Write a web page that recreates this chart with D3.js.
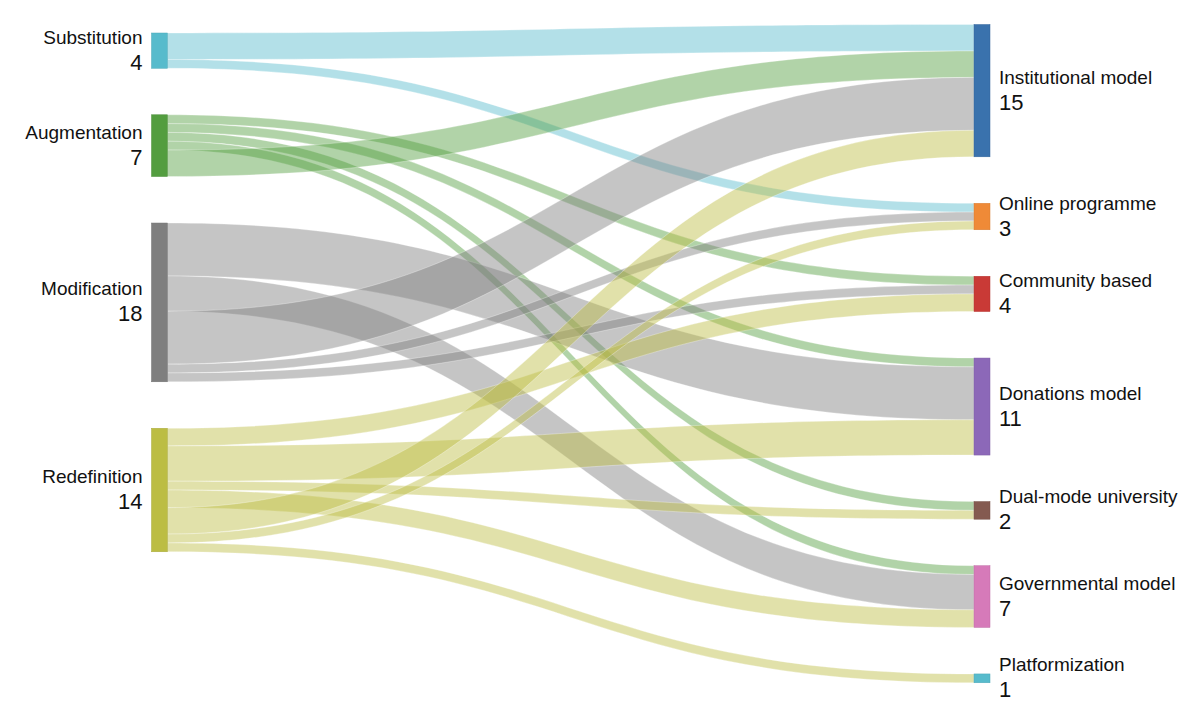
<!DOCTYPE html>
<html>
<head>
<meta charset="utf-8">
<script src="https://cdn.jsdelivr.net/npm/d3@7"></script>
<style>
  body { margin: 0; background: #fff; }
  text { font-family: "Liberation Sans", Arial, Helvetica, sans-serif; fill: #111; }
</style>
</head>
<body>
<svg id="chart"></svg>
<script>
// Left column (stages) and right column (models)
const sourceNames = ["Substitution", "Augmentation", "Modification", "Redefinition"];
const sourceColors = ["#57bbcc", "#539d3f", "#7f7f7f", "#bcbd43"];

const targetNames = ["Institutional model", "Online programme", "Community based",
  "Donations model", "Dual-mode university", "Governmental model", "Platformization"];
const targetColors = ["#3a72ad", "#ef8a37", "#c93a36", "#8c68b8", "#845a50", "#d67ab9", "#57bbcc"];

// Flows, in the order they leave each source node
const linkFrom = [
  "Substitution", "Substitution",
  "Augmentation", "Augmentation", "Augmentation", "Augmentation", "Augmentation",
  "Modification", "Modification", "Modification", "Modification", "Modification",
  "Redefinition", "Redefinition", "Redefinition", "Redefinition", "Redefinition", "Redefinition", "Redefinition"
];
const linkTo = [
  "Institutional model", "Online programme",
  "Community based", "Donations model", "Dual-mode university", "Governmental model", "Institutional model",
  "Donations model", "Governmental model", "Institutional model", "Online programme", "Community based",
  "Community based", "Donations model", "Dual-mode university", "Governmental model", "Institutional model", "Online programme", "Platformization"
];
const linkValues = [
  3, 1,
  1, 1, 1, 1, 3,
  6, 4, 6, 1, 1,
  2, 4, 1, 2, 3, 1, 1
];

const width = 1200, height = 720;
const nodeWidth = 16, nodePad = 46.5;
const columnTop = [33, 24.5];

const svg = d3.select("#chart")
    .attr("width", width)
    .attr("height", height);

// column -> x position, flow units -> pixels
const x = d3.scaleLinear().domain([0, 1]).range([151.5, 974]);
const k = d3.scaleLinear().domain([0, 1]).range([0, 8.82]);

function buildColumn(names, colors, col) {
    let y0 = columnTop[col];
    return names.map(function(name, i) {
        const value = d3.sum(linkValues.filter(function(v, j) {
            return (col === 0 ? linkFrom[j] : linkTo[j]) === name;
        }));
        const node = { name: name, color: colors[i], col: col, index: i, value: value,
            x0: x(col), x1: x(col) + nodeWidth, y0: y0, y1: y0 + k(value) };
        y0 += k(value) + nodePad;
        return node;
    });
}

const sourceNodes = buildColumn(sourceNames, sourceColors, 0);
const targetNodes = buildColumn(targetNames, targetColors, 1);
const nodes = sourceNodes.concat(targetNodes);

const links = linkValues.map(function(v, j) {
    return {
        source: sourceNodes.find(function(n) { return n.name === linkFrom[j]; }),
        target: targetNodes.find(function(n) { return n.name === linkTo[j]; }),
        value: v
    };
});

// stack links on the source side in given order
sourceNodes.forEach(function(n) {
    let y = n.y0;
    links.filter(function(l) { return l.source === n; }).forEach(function(l) {
        l.sy0 = y; y += k(l.value); l.sy1 = y;
    });
});
// stack links on the target side by source order
targetNodes.forEach(function(n) {
    let y = n.y0;
    links.filter(function(l) { return l.target === n; })
        .sort(function(a, b) { return a.source.index - b.source.index; })
        .forEach(function(l) { l.ty0 = y; y += k(l.value); l.ty1 = y; });
});

function ribbon(d) {
    const x0 = d.source.x1, x1 = d.target.x0, xm = (x0 + x1) / 2;
    const p = d3.path();
    p.moveTo(x0, d.sy0);
    p.bezierCurveTo(xm, d.sy0, xm, d.ty0, x1, d.ty0);
    p.lineTo(x1, d.ty1);
    p.bezierCurveTo(xm, d.ty1, xm, d.sy1, x0, d.sy1);
    p.closePath();
    return p.toString();
}

svg.append("g")
  .selectAll("path")
  .data(links)
  .enter()
  .append("path")
    .attr("d", ribbon)
    .attr("fill", function(d) { return d.source.color; })
    .attr("fill-opacity", 0.45)
    .attr("stroke", "#fff")
    .attr("stroke-width", 0.5)
    .attr("stroke-opacity", 0.6);

svg.append("g")
  .selectAll("rect")
  .data(nodes)
  .enter()
  .append("rect")
    .attr("x", function(d) { return d.x0; })
    .attr("y", function(d) { return d.y0; })
    .attr("width", nodeWidth)
    .attr("height", function(d) { return d.y1 - d.y0; })
    .attr("fill", function(d) { return d.color; })
    .attr("stroke", function(d) { return d3.color(d.color).darker(0.3); })
    .attr("stroke-width", 0.5);

// labels: name and value
const labels = svg.append("g")
  .selectAll("g")
  .data(nodes)
  .enter()
  .append("g")
    .attr("transform", function(d) {
        const lx = d.col === 0 ? d.x0 - 9 : d.x1 + 9;
        return "translate(" + lx + "," + (d.y0 + d.y1) / 2 + ")";
    })
    .attr("text-anchor", function(d) { return d.col === 0 ? "end" : "start"; });

labels.append("text")
    .attr("y", -7)
    .attr("font-size", 19)
    .text(function(d) { return d.name; });

labels.append("text")
    .attr("y", 19)
    .attr("font-size", 22)
    .text(function(d) { return d.value; });
</script>
</body>
</html>
